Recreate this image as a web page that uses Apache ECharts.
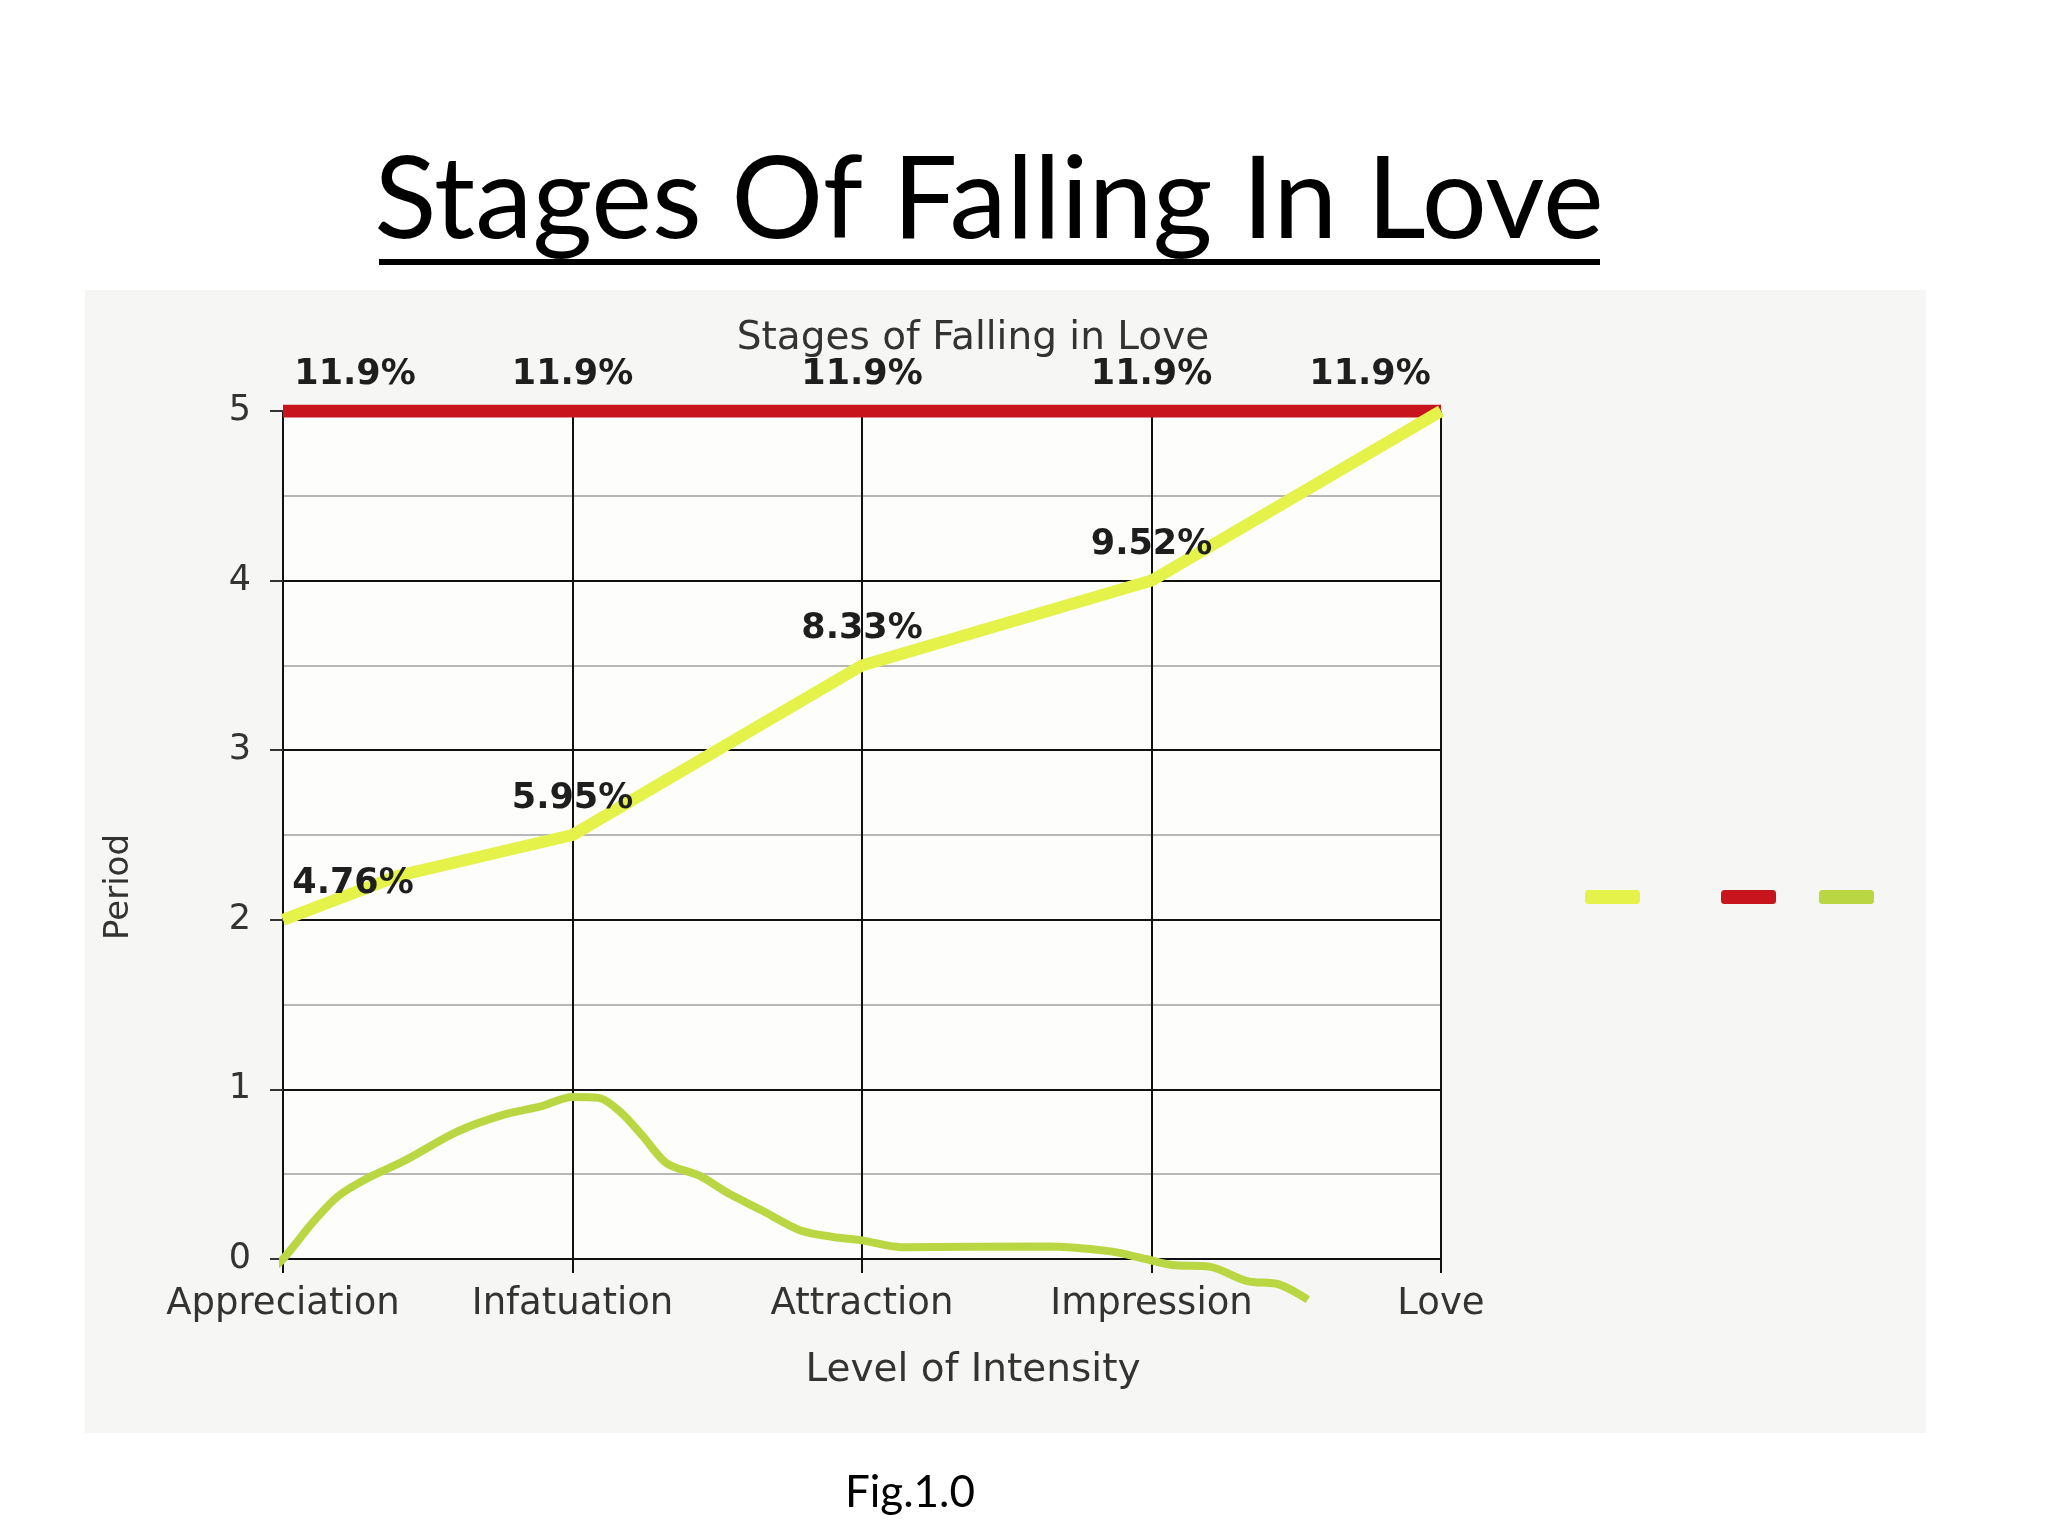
<!DOCTYPE html>
<html>
<head>
<meta charset="utf-8">
<title>Stages Of Falling In Love</title>
<script src="https://cdn.jsdelivr.net/npm/echarts@6/dist/echarts.min.js"></script>
<style>
  html, body { margin: 0; padding: 0; background: #fff; }
  #main { width: 2048px; height: 1536px; }
</style>
</head>
<body>
<div id="main"></div>
<script>
var categories = ['Appreciation', 'Infatuation', 'Attraction', 'Impression', 'Love'];

// top red line, one label per stage
var stageY = [5, 5, 5, 5, 5];
var stageLabels = ['11.9%', '11.9%', '11.9%', '11.9%', '11.9%'];

// rising yellow line (x in stage units)
var loveX = [0, 0.4, 1, 2, 3, 4];
var loveY = [2, 2.26, 2.5, 3.5, 4, 5];
var loveLabels = ['4.76%', '', '5.95%', '8.33%', '9.52%', ''];

// green curve
var periodX = [-0.07, 0, 0.1, 0.19, 0.29, 0.42, 0.6, 0.76, 0.89, 1.0, 1.09, 1.17, 1.245, 1.325, 1.44, 1.535, 1.65, 1.785, 1.9, 2.0, 2.135, 2.635, 2.86, 2.98, 3.07, 3.2, 3.33, 3.44, 3.54];
var periodY = [-0.1, 0, 0.21, 0.37, 0.475, 0.58, 0.75, 0.85, 0.9, 0.955, 0.95, 0.86, 0.72, 0.565, 0.49, 0.39, 0.29, 0.17, 0.13, 0.11, 0.07, 0.074, 0.045, 0, -0.035, -0.045, -0.13, -0.15, -0.24];

var font = 'DejaVu Sans';

var chart = echarts.init(document.getElementById('main'));

var labelBase = {
    show: true,
    position: 'top',
    distance: 18,
    fontFamily: font,
    fontWeight: 'bold',
    fontSize: 35,
    color: '#1e1e1e'
};

var stageData = stageY.map(function (v, i) {
    var item = { value: [i, v] };
    if (i === 0) item.label = { offset: [72, 0] };
    if (i === stageY.length - 1) item.label = { offset: [-71, 0] };
    return item;
});

var loveData = loveY.map(function (v, i) {
    var item = { value: [loveX[i], v] };
    if (i === 0) item.label = { offset: [70, 0] };
    return item;
});

var periodData = periodY.map(function (v, i) {
    return [periodX[i], v];
});

var legendBase = {
    top: 885,
    itemWidth: 55,
    itemHeight: 14,
    icon: 'roundRect',
    selectedMode: false,
    formatter: function () { return ''; }
};

var option = {
    backgroundColor: '#ffffff',
    animation: false,
    graphic: [
        {
            type: 'rect', z: -100, silent: true,
            shape: { x: 85, y: 290, width: 1841, height: 1143 },
            style: { fill: '#f6f7f4' }
        },
        {
            type: 'text', silent: true, x: 989, y: 201,
            style: {
                text: 'Stages Of Falling In Love',
                font: '115px Lato',
                fill: '#000',
                textAlign: 'center', textVerticalAlign: 'middle'
            }
        },
        {
            type: 'rect', silent: true,
            shape: { x: 379, y: 259, width: 1221, height: 6 },
            style: { fill: '#000' }
        },
        {
            type: 'text', silent: true, x: 973, y: 339,
            style: {
                text: 'Stages of Falling in Love',
                font: '39px "DejaVu Sans"',
                fill: '#333',
                textAlign: 'center', textVerticalAlign: 'middle'
            }
        },
        {
            type: 'text', silent: true, x: 910, y: 1493,
            style: {
                text: 'Fig.1.0',
                font: '44px Lato',
                fill: '#000',
                textAlign: 'center', textVerticalAlign: 'middle'
            }
        }
    ],
    legend: [
        Object.assign({ left: 1580, data: ['Rising'] }, legendBase),
        Object.assign({ left: 1716, itemGap: 43, data: ['Stage', 'Period'] }, legendBase)
    ],
    grid: {
        left: 283, right: 607, top: 411, bottom: 277,
        show: true, borderWidth: 0, backgroundColor: '#fdfdfc'
    },
    xAxis: {
        type: 'value', min: 0, max: 4, interval: 1,
        name: 'Level of Intensity',
        nameLocation: 'middle',
        nameGap: 92,
        nameTextStyle: { fontFamily: font, fontSize: 39, color: '#333', padding: [0, 0, 0, 222] },
        axisLine: { show: true, lineStyle: { color: '#111', width: 2 } },
        axisTick: { show: true, length: 14, lineStyle: { color: '#111', width: 2 } },
        axisLabel: {
            fontFamily: font, fontSize: 37, color: '#333', margin: 27,
            formatter: function (v) { return categories[v]; }
        },
        splitLine: { show: true, lineStyle: { color: '#111', width: 2 } }
    },
    yAxis: {
        type: 'value', min: 0, max: 5, interval: 1,
        name: 'Period',
        nameLocation: 'middle',
        nameGap: 147,
        nameTextStyle: { fontFamily: font, fontSize: 34, color: '#333', padding: [0, 104, 0, 0] },
        axisLine: { show: true, lineStyle: { color: '#111', width: 2 } },
        axisTick: { show: true, length: 13, lineStyle: { color: '#333', width: 2 } },
        axisLabel: { fontFamily: font, fontSize: 35, color: '#333', margin: 32 },
        splitLine: { show: true, lineStyle: { color: '#111', width: 2 } },
        minorTick: { show: false, splitNumber: 2 },
        minorSplitLine: { show: true, lineStyle: { color: '#a0a0a0', width: 1.5 } }
    },
    series: [
        {
            name: 'Rising', type: 'line', z: 4,
            data: loveData,
            symbol: 'circle', symbolSize: 1,
            itemStyle: { color: '#e4f24a' },
            lineStyle: { color: '#e4f24a', width: 12 },
            label: Object.assign({}, labelBase, {
                formatter: function (p) { return loveLabels[p.dataIndex]; }
            })
        },
        {
            name: 'Stage', type: 'line', z: 3,
            data: stageData,
            symbol: 'circle', symbolSize: 1,
            itemStyle: { color: '#c8141c' },
            lineStyle: { color: '#c8141c', width: 13 },
            label: Object.assign({}, labelBase, {
                formatter: function (p) { return stageLabels[p.dataIndex]; }
            })
        },
        {
            name: 'Period', type: 'line', z: 4,
            data: periodData,
            symbol: 'none',
            smooth: 0.3,
            clip: false,
            itemStyle: { color: '#bad642' },
            lineStyle: { color: '#bad642', width: 8 }
        }
    ]
};

chart.setOption(option);
</script>
</body>
</html>
